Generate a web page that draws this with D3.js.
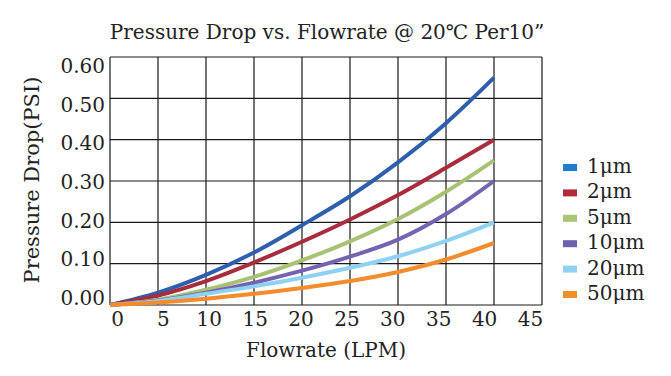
<!DOCTYPE html>
<html>
<head>
<meta charset="utf-8">
<script src="https://cdn.jsdelivr.net/npm/d3@7"></script>
<style>
  body { margin: 0; background: #fff; }
  svg text { font-family: "DejaVu Serif", "Liberation Serif", serif; fill: #222; }
</style>
</head>
<body>
<svg id="chart" width="671" height="376"></svg>
<script>
// flowrate points (LPM)
const flowrates = [0, 5, 10, 15, 20, 25, 30, 35, 40];
const xTickLabels = [0, 5, 10, 15, 20, 25, 30, 35, 40, 45];
const yTickLabels = [0, 0.1, 0.2, 0.3, 0.4, 0.5, 0.6];

const seriesNames = ['1\u03bcm', '2\u03bcm', '5\u03bcm', '10\u03bcm', '20\u03bcm', '50\u03bcm'];
const lineColors = ['#2e5fae', '#a82c3c', '#a6c272', '#7463b0', '#8fd1f2', '#f28c2c'];
const swatchColors = ['#1f7dd0', '#b02a3a', '#a8c474', '#7060b0', '#90d0f0', '#f0902a'];

// pressure drop (PSI)
const drop1 = [0, 0.030, 0.073, 0.127, 0.193, 0.263, 0.345, 0.440, 0.55];
const drop2 = [0, 0.023, 0.058, 0.103, 0.153, 0.207, 0.266, 0.332, 0.40];
const drop5 = [0, 0.013, 0.037, 0.068, 0.108, 0.154, 0.208, 0.274, 0.35];
const drop10 = [0, 0.011, 0.030, 0.054, 0.083, 0.117, 0.158, 0.220, 0.30];
const drop20 = [0, 0.010, 0.027, 0.045, 0.066, 0.090, 0.118, 0.155, 0.20];
const drop50 = [0, 0.006, 0.015, 0.027, 0.041, 0.058, 0.080, 0.110, 0.15];
const allDrops = [drop1, drop2, drop5, drop10, drop20, drop50];

const svg = d3.select('#chart');
const plot = { left: 110, right: 542, top: 57, bottom: 305 };

// scales for the grid and the curves
const x = d3.scaleLinear().domain([0, 45]).range([plot.left, plot.right]);
const y = d3.scaleLinear().domain([0, 0.6]).range([plot.bottom, plot.top]);
// the tick labels sit a bit off the grid in the original
const xLabel = d3.scaleLinear().domain([0, 45]).range([117, 530]);
const yLabel = d3.scaleLinear().domain([0, 0.6]).range([298, 66]);

// grid
const grid = svg.append('g').attr('stroke', '#1a1a1a').attr('stroke-width', 1.2);
grid.selectAll('.vg').data(d3.range(0, 50, 5)).join('line')
    .attr('x1', d => x(d)).attr('x2', d => x(d))
    .attr('y1', plot.top).attr('y2', plot.bottom);
grid.selectAll('.hg').data(yTickLabels).join('line')
    .attr('x1', plot.left).attr('x2', plot.right)
    .attr('y1', d => y(d)).attr('y2', d => y(d));

// axis labels
svg.append('g')
    .attr('transform', `translate(0,${plot.bottom + 7})`)
    .call(d3.axisBottom(xLabel).tickValues(xTickLabels).tickSize(0).tickPadding(0))
    .call(g => g.select('.domain').remove())
    .selectAll('text').attr('font-size', 20).attr('fill', '#222')
    .attr('font-family', '"DejaVu Serif", serif');

svg.append('g')
    .attr('transform', `translate(${plot.left - 5},0)`)
    .call(d3.axisLeft(yLabel).tickValues(yTickLabels).tickSize(0).tickPadding(0).tickFormat(d3.format('.2f')))
    .call(g => g.select('.domain').remove())
    .selectAll('text').attr('font-size', 20).attr('fill', '#222')
    .attr('font-family', '"DejaVu Serif", serif');

// curves
const line = d3.line()
    .x((d, i) => x(flowrates[i]))
    .y(d => y(d))
    .curve(d3.curveCatmullRom);

svg.append('g').selectAll('path').data(allDrops).join('path')
    .attr('d', line)
    .attr('fill', 'none')
    .attr('stroke', (d, i) => lineColors[i])
    .attr('stroke-width', 4);

// titles
svg.append('text')
    .attr('x', 327).attr('y', 39)
    .attr('text-anchor', 'middle')
    .attr('font-size', 20)
    .text('Pressure Drop vs. Flowrate @ 20\u2103 Per10\u201d');

svg.append('text')
    .attr('x', 326).attr('y', 357)
    .attr('text-anchor', 'middle')
    .attr('font-size', 20)
    .text('Flowrate (LPM)');

svg.append('text')
    .attr('transform', 'translate(39,180) rotate(-90)')
    .attr('text-anchor', 'middle')
    .attr('font-size', 21)
    .text('Pressure Drop(PSI)');

// legend
const legend = svg.append('g').attr('transform', 'translate(563,167)');
const rows = legend.selectAll('g').data(seriesNames).join('g')
    .attr('transform', (d, i) => `translate(0,${i * 25.4})`);
rows.append('rect')
    .attr('x', 0).attr('y', -3).attr('width', 14).attr('height', 7)
    .attr('fill', (d, i) => swatchColors[i]);
rows.append('text')
    .attr('x', 24).attr('y', 6)
    .attr('font-size', 20)
    .text(d => d);
</script>
</body>
</html>
